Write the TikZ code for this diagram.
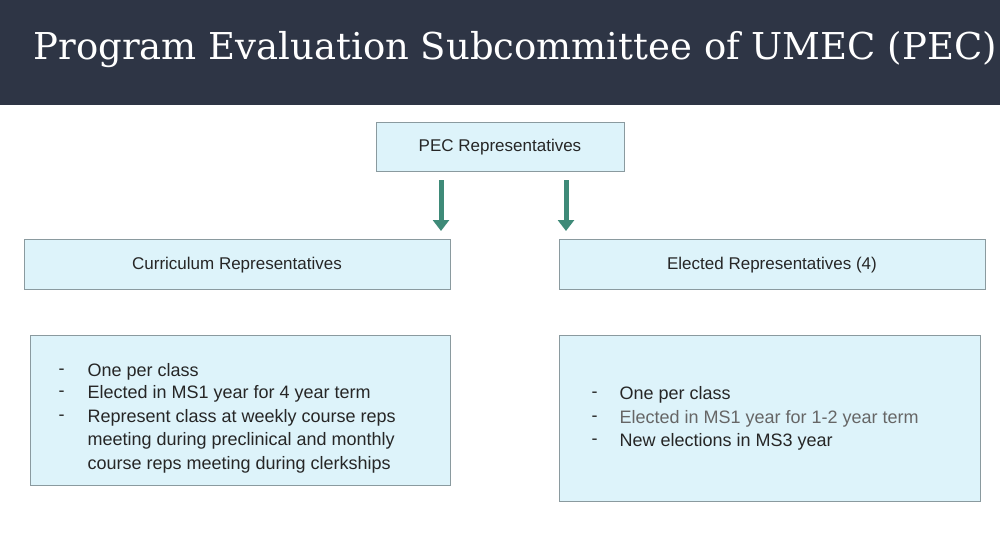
\documentclass[tikz,border=0pt]{standalone}
\usepackage{fontspec}
\setmainfont{Liberation Sans}
\newfontfamily\titlefont{DejaVu Serif}
\usetikzlibrary{arrows.meta}
\definecolor{navy}{HTML}{2E3545}
\definecolor{boxfill}{HTML}{DDF3FA}
\definecolor{boxline}{HTML}{8A9A9F}
\definecolor{teal}{HTML}{3E8A78}
\tikzset{
  hbox/.style={draw=boxline, fill=boxfill, line width=0.8pt},
  lbl/.style={font=\fontsize{17}{20}\selectfont, text=black!85, anchor=center},
  item/.style={font=\fontsize{18}{22}\selectfont, text=black!85, anchor=west},
  blk/.style={draw=none, fill=teal},
}
\begin{document}
\begin{tikzpicture}[x=1pt,y=-1pt]
\useasboundingbox (0,0) rectangle (1000,539);
\fill[white] (0,0) rectangle (1000,539);
\fill[navy] (0,0) rectangle (1000,105);
\node[anchor=west, text=white, font=\titlefont\fontsize{37}{42}\selectfont] (title) at (30,50) {Program Evaluation Subcommittee of UMEC (PEC)};
% top box
\draw[hbox] (376,122) rectangle (624,171);
\node[lbl] (pec) at (500,147) {PEC Representatives};
\draw[hbox] (24,239) rectangle (450,289);
\node[lbl] (cur) at (237,265) {Curriculum Representatives};
\draw[hbox] (559,239) rectangle (985,289);
\node[lbl] (ele) at (772,265) {Elected Representatives (4)};
% arrows
\coordinate (a1s) at (441,180); \coordinate (a1e) at (441,231);
\coordinate (a2s) at (566,180); \coordinate (a2e) at (566,231);
\draw[teal, line width=5pt, -{Triangle[length=11pt,width=16pt]}] (a1s) -- (a1e);
\draw[teal, line width=5pt, -{Triangle[length=11pt,width=16pt]}] (a2s) -- (a2e);
% lower boxes
\draw[hbox] (30,335) rectangle (450,485);
\draw[hbox] (559,335) rectangle (980,501);
\foreach \y/\t [count=\i] in {372/One per class, 394/Elected in MS1 year for 4 year term, 418/Represent class at weekly course reps}{
  \node[item] (ld\i) at (55,\y) {-};
  \node[item] (lt\i) at (84,\y) {\t};
}
\node[item] (lt4) at (84,441) {meeting during preclinical and monthly};
\node[item] (lt5) at (84,465) {course reps meeting during clerkships};
\node[item] (rd1) at (588,395) {-};
\node[item] (rt1) at (616,395) {One per class};
\node[item] (rd2) at (588,419) {-};
\node[item, text=black!60] (rt2) at (616,419) {Elected in MS1 year for 1-2 year term};
\node[item] (rd3) at (588,442) {-};
\node[item] (rt3) at (616,442) {New elections in MS3 year};
\end{tikzpicture}
\end{document}
